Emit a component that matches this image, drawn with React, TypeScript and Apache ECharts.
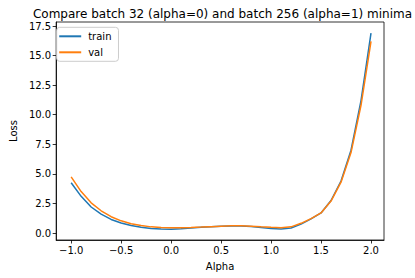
import React, { useEffect, useRef } from "react";
import * as echarts from "echarts";

const alphas = [-1.0, -0.9, -0.8, -0.7, -0.6, -0.5, -0.4, -0.3, -0.2, -0.1, 0.0, 0.1, 0.2, 0.3, 0.4, 0.5, 0.6, 0.7, 0.8, 0.9, 1.0, 1.1, 1.2, 1.3, 1.4, 1.5, 1.6, 1.7, 1.8, 1.9, 2.0];
const trainLoss = [4.25, 3.1, 2.2, 1.6, 1.15, 0.85, 0.63, 0.48, 0.38, 0.33, 0.32, 0.36, 0.42, 0.48, 0.53, 0.57, 0.6, 0.6, 0.55, 0.47, 0.38, 0.33, 0.42, 0.75, 1.2, 1.7, 2.75, 4.4, 7.0, 11.2, 16.9];
const valLoss = [4.75, 3.5, 2.55, 1.88, 1.38, 1.03, 0.79, 0.63, 0.52, 0.47, 0.45, 0.45, 0.47, 0.5, 0.54, 0.58, 0.61, 0.61, 0.58, 0.52, 0.48, 0.45, 0.52, 0.82, 1.22, 1.7, 2.7, 4.3, 6.8, 10.8, 16.2];
const xTicks = [-1.0, -0.5, 0.0, 0.5, 1.0, 1.5, 2.0];
const yTicks = [0.0, 2.5, 5.0, 7.5, 10.0, 12.5, 15.0, 17.5];

const FONT = "DejaVu Sans";
const fmt = (v: number) => v.toFixed(1).replace("-", "\u2212");

export default function App() {
  const ref = useRef<HTMLDivElement>(null);
  useEffect(() => {
    if (!ref.current) return;
    const chart = echarts.init(ref.current, null, { renderer: "svg" });
    chart.setOption({
      animation: false,
      title: {
        text: "Compare batch 32 (alpha=0) and batch 256 (alpha=1) minima",
        left: 217.5,
        textAlign: "center",
        top: 3,
        textStyle: { fontFamily: FONT, fontSize: 12, fontWeight: "normal", color: "#000" },
      },
      legend: {
        orient: "vertical",
        left: 56.7,
        top: 27.3,
        padding: [4, 7, 4, 2.5],
        itemGap: 6,
        itemWidth: 22,
        itemHeight: 2,
        icon: "rect",
        backgroundColor: "#fff",
        borderColor: "#cccccc",
        borderWidth: 1,
        borderRadius: 3,
        textStyle: { fontFamily: FONT, fontSize: 10, color: "#000", padding: [0, 0, 0, 2] },
        data: ["train", "val"],
      },
      grid: {
        left: 51,
        right: 31,
        top: 22,
        bottom: 38,
        show: true,
        borderColor: "#000",
        borderWidth: 0.8,
        backgroundColor: "#fff",
      },
      xAxis: {
        type: "value",
        min: -1.15,
        max: 2.13,
        name: "Alpha",
        nameLocation: "middle",
        nameGap: 21,
        nameTextStyle: { fontFamily: FONT, fontSize: 10, color: "#000" },
        axisLine: { show: true, onZero: false, lineStyle: { color: "#000", width: 0.8 } },
        axisTick: { show: true, inside: false, length: 3.5, lineStyle: { color: "#000", width: 0.8 }, customValues: xTicks },
        axisLabel: { fontFamily: FONT, fontSize: 10, color: "#000", margin: 5, customValues: xTicks, formatter: fmt },
        splitLine: { show: false },
      },
      yAxis: {
        type: "value",
        min: -0.59,
        max: 17.84,
        name: "Loss",
        nameLocation: "middle",
        nameGap: 34,
        nameRotate: 90,
        nameTextStyle: { fontFamily: FONT, fontSize: 10, color: "#000" },
        axisLine: { show: true, onZero: false, lineStyle: { color: "#000", width: 0.8 } },
        axisTick: { show: true, inside: false, length: 3.5, lineStyle: { color: "#000", width: 0.8 }, customValues: yTicks },
        axisLabel: { fontFamily: FONT, fontSize: 10, color: "#000", margin: 5, customValues: yTicks, formatter: fmt },
        splitLine: { show: false },
      },
      series: [
        {
          name: "train",
          type: "line",
          data: alphas.map((a, i) => [a, trainLoss[i]]),
          showSymbol: false,
          symbol: "none",
          itemStyle: { color: "#1f77b4" },
          lineStyle: { color: "#1f77b4", width: 1.5 },
        },
        {
          name: "val",
          type: "line",
          data: alphas.map((a, i) => [a, valLoss[i]]),
          showSymbol: false,
          symbol: "none",
          itemStyle: { color: "#ff7f0e" },
          lineStyle: { color: "#ff7f0e", width: 1.5 },
        },
      ],
    });
    return () => chart.dispose();
  }, []);
  return <div ref={ref} style={{ width: 415, height: 278, position: "absolute", left: 0, top: 0 }} />;
}
